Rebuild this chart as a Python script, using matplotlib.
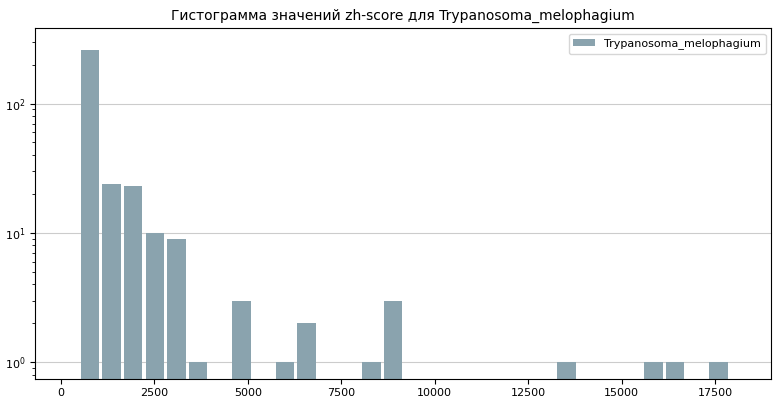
import numpy as np
import matplotlib.pyplot as plt

# histogram bins (left edge, width) and counts
bin_start = 480
bin_width = 580
counts = [260, 24, 23, 10, 9, 1, 0, 3, 0, 1, 2, 0, 0, 1, 3,
          0, 0, 0, 0, 0, 0, 0, 1, 0, 0, 0, 1, 1, 0, 1]
label = "Trypanosoma_melophagium"

edges = bin_start + bin_width * np.arange(len(counts) + 1)
centers = (edges[:-1] + edges[1:]) / 2
counts = np.array(counts, dtype=float)
mask = counts > 0

fig, ax = plt.subplots(figsize=(7.75, 4.07), dpi=100)
ax.bar(centers[mask], counts[mask], width=bin_width * 0.85,
       color="#8aa3ae", label=label, zorder=2)
ax.set_yscale("log")
ax.set_ylim(0.75, 380)
ax.set_xlim(-700, 19000)
ax.grid(axis="y", color="#cccccc", linewidth=0.8, zorder=0)
ax.set_title("Гистограмма значений zh-score для Trypanosoma_melophagium", fontsize=10)
ax.tick_params(labelsize=8)
ax.legend(loc="upper right", fontsize=8)
fig.subplots_adjust(left=0.045, right=0.995, top=0.93, bottom=0.07)
fig.savefig("out.png")
